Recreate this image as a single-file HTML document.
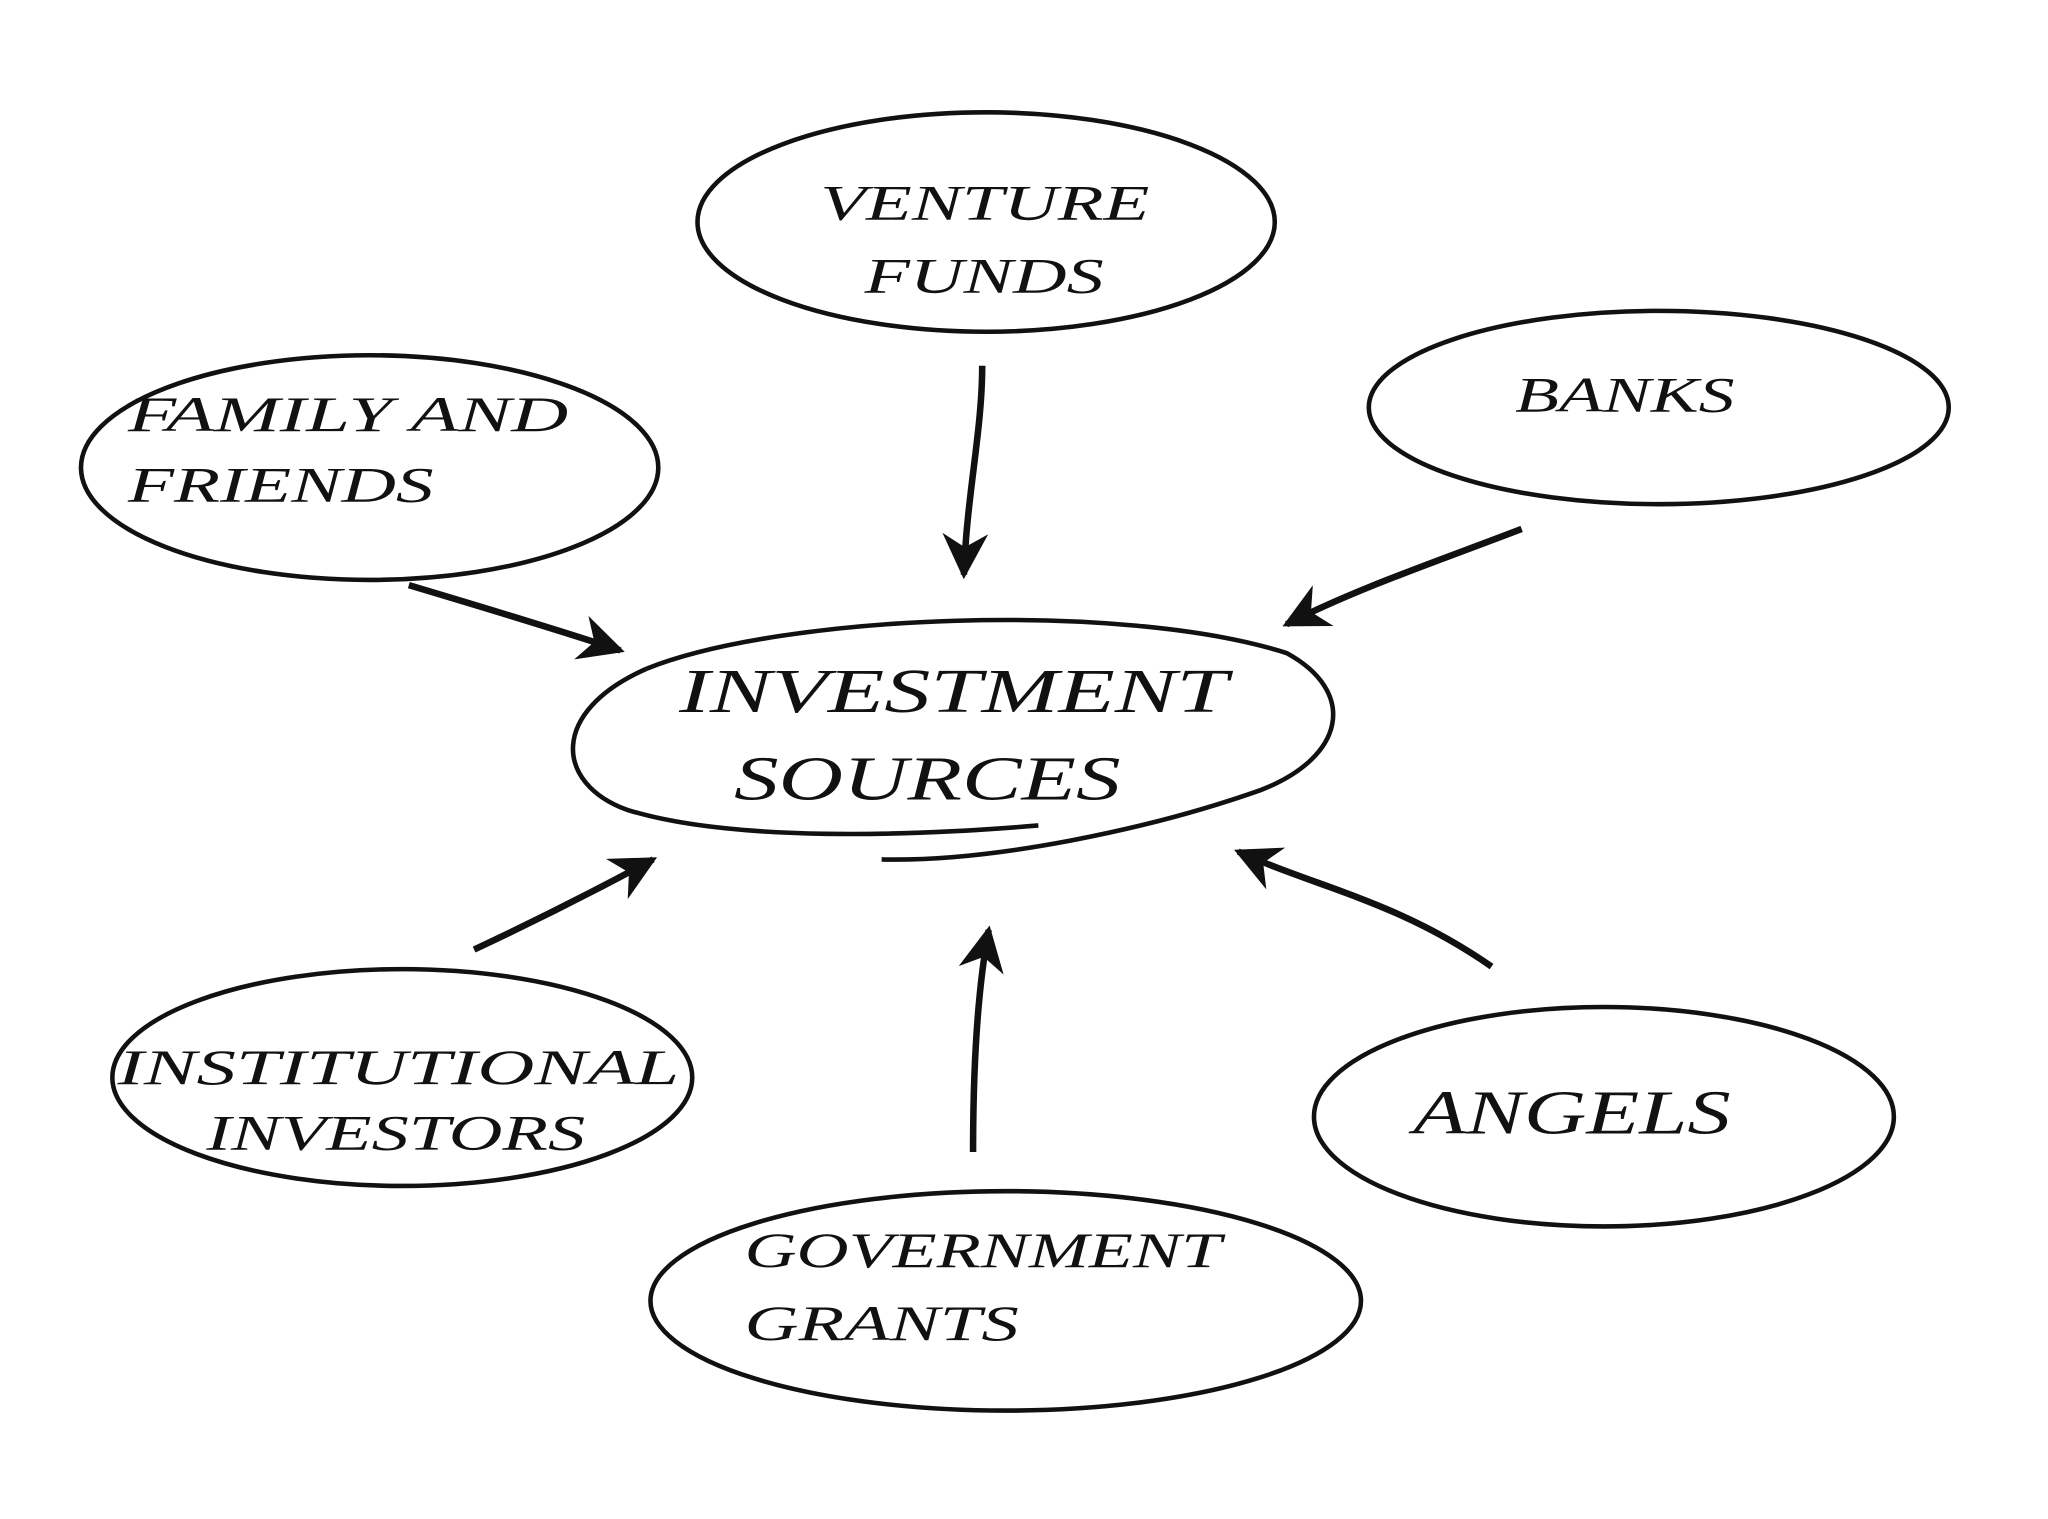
<!DOCTYPE html>
<html><head><meta charset="utf-8"><style>
html,body{margin:0;padding:0;background:#fff;}
svg{display:block;}
text{font-family:"Liberation Serif",serif;font-style:italic;fill:#111;}
</style></head><body>
<svg width="2048" height="1519" viewBox="0 0 1568 1163" xmlns="http://www.w3.org/2000/svg">
<defs><marker id="ah" viewBox="0 0 10 10" refX="9" refY="5" markerWidth="7" markerHeight="7" orient="auto"><path d="M0,0 L10,5 L0,10 L3,5 z" fill="#111"/></marker></defs>
<g fill="none" stroke="#111" stroke-width="3.5">
<ellipse cx="755" cy="170" rx="221" ry="84"/>
<ellipse cx="1270" cy="312" rx="222" ry="74"/>
<ellipse cx="283" cy="358" rx="221" ry="86"/>
<path d="M495,512 C420,545 425,600 480,620 C560,645 700,640 795,632"/>
<path d="M495,512 C600,470 860,460 985,500 C1040,530 1030,580 965,605 C880,635 760,660 675,658"/>
<ellipse cx="308" cy="825" rx="222" ry="83"/>
<ellipse cx="770" cy="996" rx="272" ry="84"/>
<ellipse cx="1228" cy="855" rx="222" ry="84"/>
<g stroke-width="5" marker-end="url(#ah)">
<path d="M752,280 C752,330 740,380 738,440"/>
<path d="M1165,405 C1100,430 1040,450 985,478"/>
<path d="M313,448 C370,465 420,480 475,498"/>
<path d="M363,727 C410,705 450,685 500,658"/>
<path d="M745,882 C745,820 748,760 757,712"/>
<path d="M1142,740 C1070,690 1010,680 948,652"/>
</g>
</g>
<g font-size="38">
<text x="628" y="168" textLength="252" lengthAdjust="spacingAndGlyphs">VENTURE</text>
<text x="662" y="224" textLength="183" lengthAdjust="spacingAndGlyphs">FUNDS</text>
<text x="1160" y="315" textLength="168" lengthAdjust="spacingAndGlyphs">BANKS</text>
<text x="98" y="330" textLength="337" lengthAdjust="spacingAndGlyphs">FAMILY AND</text>
<text x="98" y="384" textLength="234" lengthAdjust="spacingAndGlyphs">FRIENDS</text>
<text x="90" y="830" textLength="430" lengthAdjust="spacingAndGlyphs">INSTITUTIONAL</text>
<text x="158" y="880" textLength="290" lengthAdjust="spacingAndGlyphs">INVESTORS</text>
<text x="570" y="970" textLength="365" lengthAdjust="spacingAndGlyphs">GOVERNMENT</text>
<text x="570" y="1026" textLength="210" lengthAdjust="spacingAndGlyphs">GRANTS</text>
</g>
<text x="1082" y="868" font-size="48" textLength="243" lengthAdjust="spacingAndGlyphs">ANGELS</text>
<text x="520" y="545" font-size="48" textLength="420" lengthAdjust="spacingAndGlyphs">INVESTMENT</text>
<text x="562" y="612" font-size="48" textLength="296" lengthAdjust="spacingAndGlyphs">SOURCES</text>
</svg>
</body></html>
